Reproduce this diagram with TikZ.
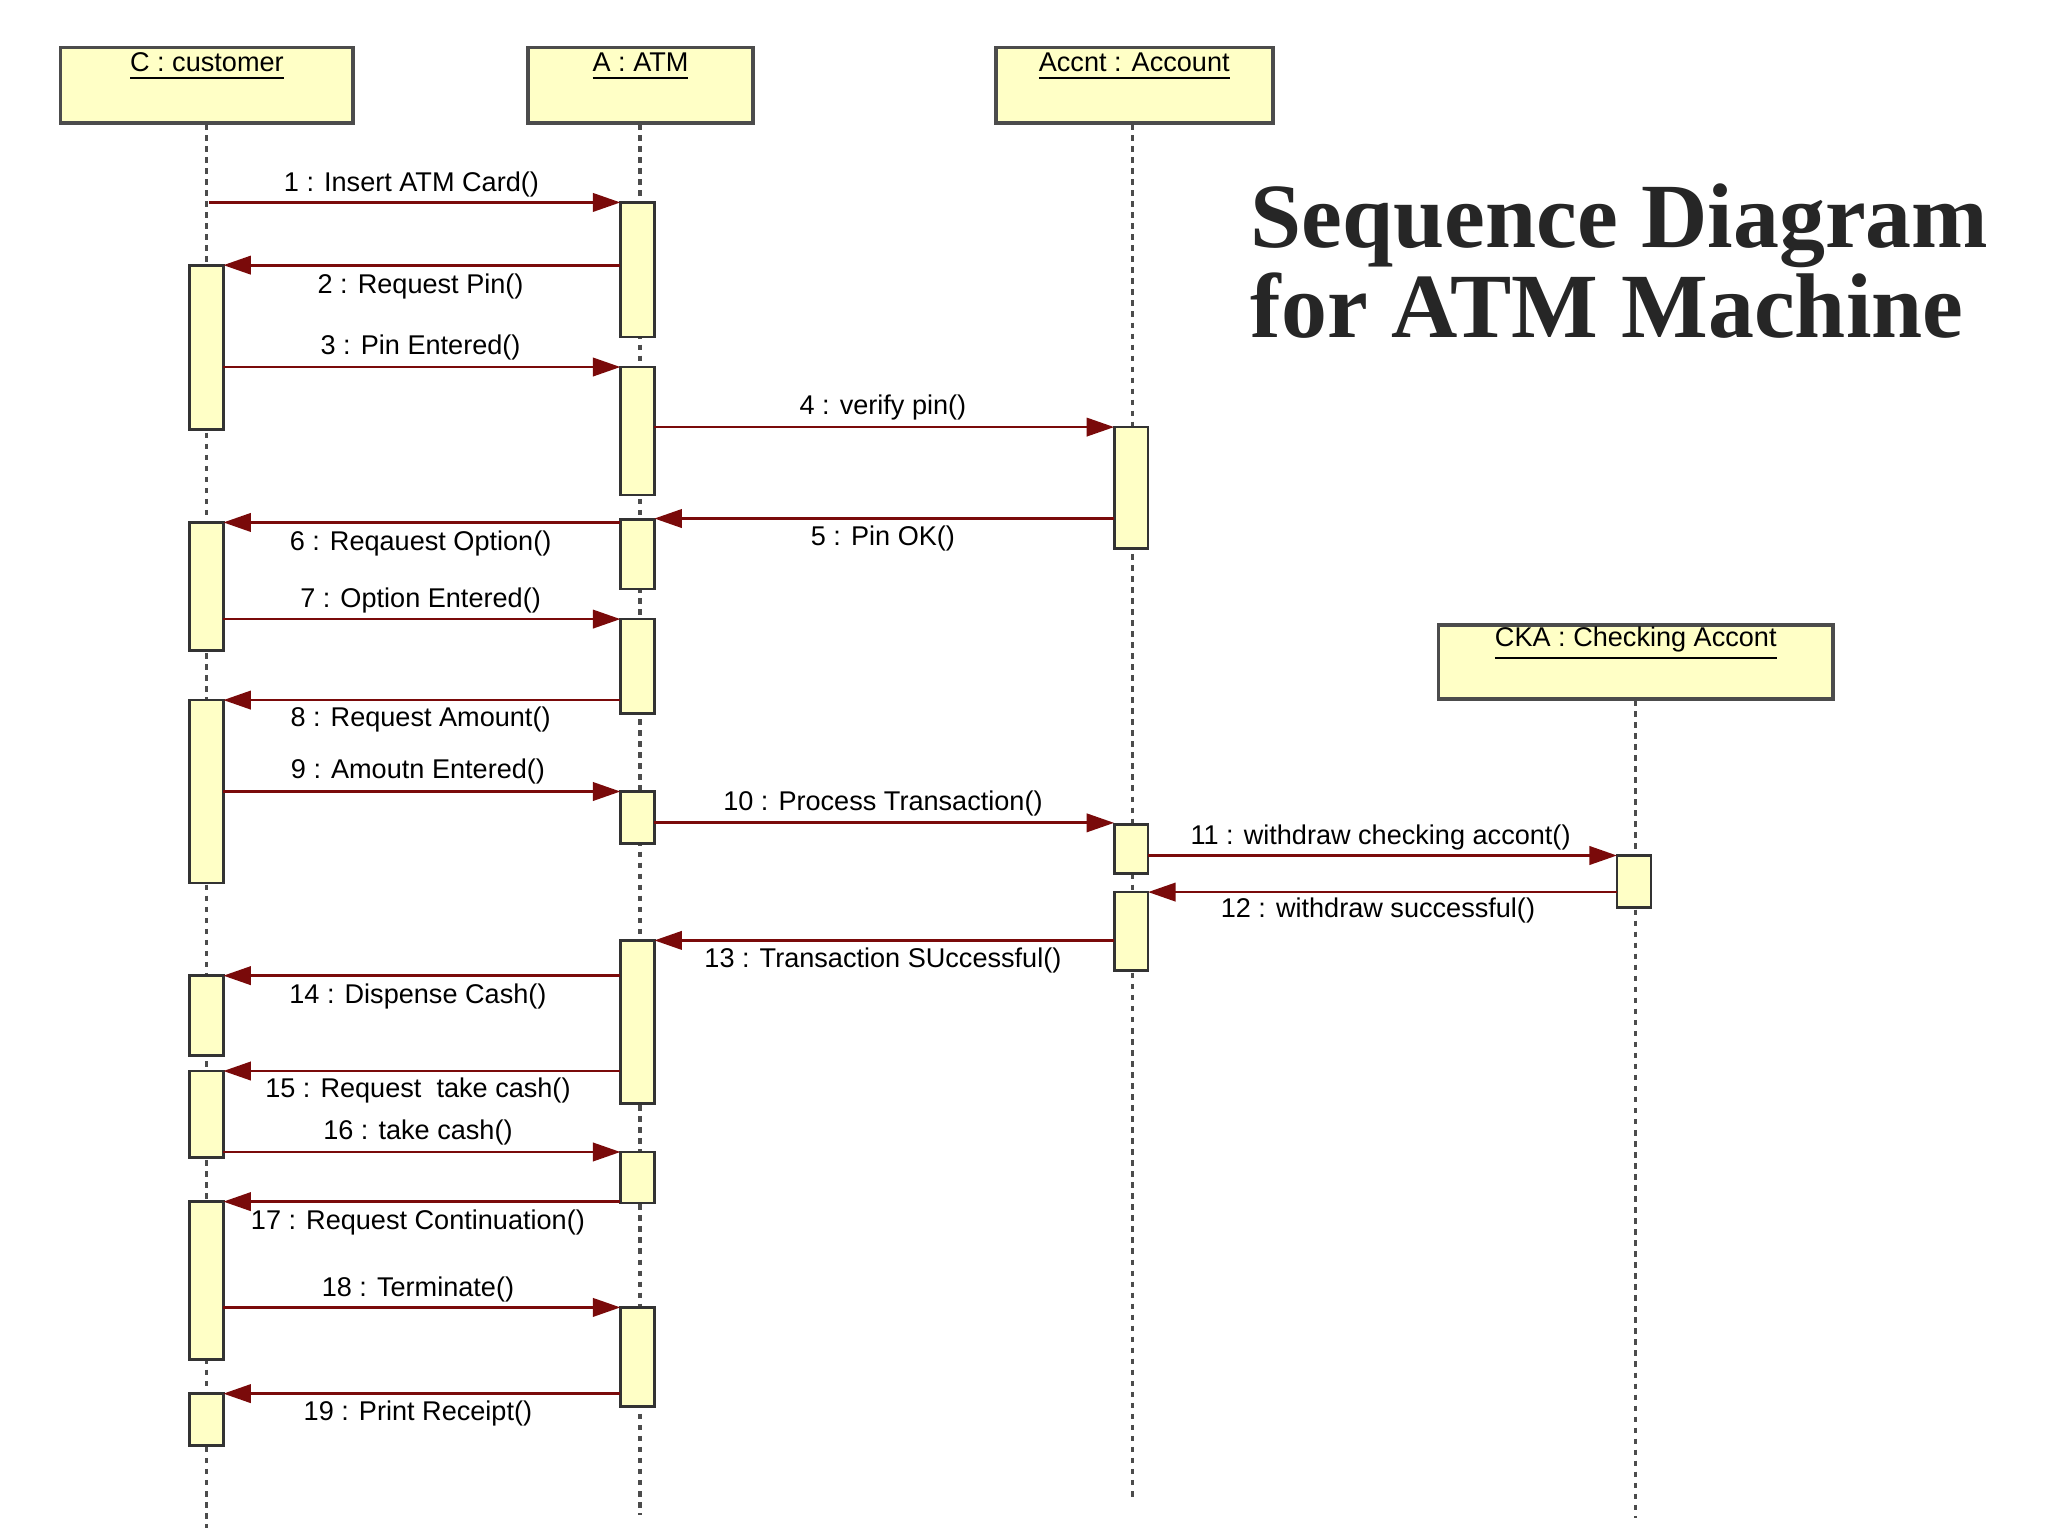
\documentclass[tikz,border=0pt]{standalone}
\usepackage{fontspec}
\setmainfont{Liberation Sans}
\newfontfamily\ttl{Liberation Serif}
\usetikzlibrary{arrows.meta}
\definecolor{boxy}{HTML}{FFFFC6}
\definecolor{msgred}{HTML}{7A0A0A}
\tikzset{
 head/.style={draw=black!70,fill=boxy,line width=0.8pt,anchor=north west},
 act/.style={draw=black!80,fill=boxy,line width=0.6pt,minimum width=26*0.01cm,inner sep=0},
 life/.style={black!70,dash pattern=on 1.2pt off 1.2pt,line width=0.7pt},
 msg/.style={msgred,line width=0.6pt,-{Triangle[length=6pt,width=4pt]}},
 lab/.style={font=\fontsize{5.9}{7}\selectfont,inner sep=1pt},
}
\newcommand{\headbox}[6]{\node[head,minimum width=#3*0.01cm,minimum height=#4*0.01cm] (#5) at (#1,#2) {};
 \node[lab] at ([yshift=-16*0.01cm]#5.north) {\underline{#6}};}
\newcommand{\actv}[4]{\node[act,minimum height=(#3-#2)*0.01cm] (#4) at (#1,{(#2+#3)/2}) {};}
\newcommand{\msgm}[7]{\coordinate (#7s) at (#2,#1); \coordinate (#7e) at (#3,#1);
 \draw[msg] (#7s) -- (#7e); \node[lab] at (#5,#6) {#4};}
\begin{document}
\begin{tikzpicture}[x=0.01cm,y=-0.01cm]
\fill[white] (0,0) rectangle (1568,1176);
\useasboundingbox (0,0) rectangle (1568,1176);
% lifelines
\draw[life] (158,95) -- (158,1170);
\draw[life] (490,95) -- (490,1160);
\draw[life] (867,95) -- (867,1148);
\draw[life] (1252,536) -- (1252,1162);
\headbox{45}{35}{224}{58}{hc}{C : customer}
\headbox{403}{35}{172}{58}{ha}{A : ATM}
\headbox{761}{35}{212}{58}{hn}{Accnt : Account}
\headbox{1100}{477}{302}{57}{hk}{CKA : Checking Accont}
% activations C
\actv{158}{203}{329}{c1}\actv{158}{400}{498}{c2}\actv{158}{536}{676}{c3}
\actv{158}{747}{808}{c4}\actv{158}{820}{886}{c5}\actv{158}{920}{1041}{c6}\actv{158}{1067}{1107}{c7}
% A
\actv{488}{155}{258}{a1}\actv{488}{281}{379}{a2}\actv{488}{398}{451}{a3}\actv{488}{474}{546}{a4}
\actv{488}{606}{646}{a5}\actv{488}{720}{845}{a6}\actv{488}{882}{921}{a7}\actv{488}{1001}{1077}{a8}
% Accnt
\actv{866}{327}{420}{n1}\actv{866}{631}{669}{n2}\actv{866}{683}{743}{n3}
% CKA
\actv{1251}{655}{695}{k1}
% messages
\msgm{155}{160}{475}{1 : Insert ATM Card()}{315}{141}{m1}
\msgm{203}{475}{171}{2 : Request Pin()}{322}{219}{m2}
\msgm{281}{171}{475}{3 : Pin Entered()}{322}{266}{m3}
\msgm{327}{501}{853}{4 : verify pin()}{676}{312}{m4}
\msgm{397}{853}{501}{5 : Pin OK()}{676}{412}{m5}
\msgm{400}{475}{171}{6 : Reqauest Option()}{322}{416}{m6}
\msgm{474}{171}{475}{7 : Option Entered()}{322}{460}{m7}
\msgm{536}{475}{171}{8 : Request Amount()}{322}{551}{m8}
\msgm{606}{171}{475}{9 : Amoutn Entered()}{320}{591}{m9}
\msgm{630}{501}{853}{10 : Process Transaction()}{676}{615}{m10}
\msgm{655}{879}{1238}{11 : withdraw checking accont()}{1057}{641}{m11}
\msgm{683}{1238}{879}{12 : withdraw successful()}{1055}{697}{m12}
\msgm{720}{853}{501}{13 : Transaction SUccessful()}{676}{735}{m13}
\msgm{747}{475}{171}{14 : Dispense Cash()}{320}{763}{m14}
\msgm{820}{475}{171}{15 : Request \ take cash()}{320}{835}{m15}
\msgm{882}{171}{475}{16 : take cash()}{320}{867}{m16}
\msgm{920}{475}{171}{17 : Request Continuation()}{320}{936}{m17}
\msgm{1001}{171}{475}{18 : Terminate()}{320}{987}{m18}
\msgm{1067}{475}{171}{19 : Print Receipt()}{320}{1082}{m19}
% title
\node[anchor=west,font=\ttl\bfseries\fontsize{20}{17}\selectfont,text=black!85,align=left,inner sep=0] (title) at (957,200) {Sequence Diagram\\for ATM Machine};
\end{tikzpicture}
\end{document}
